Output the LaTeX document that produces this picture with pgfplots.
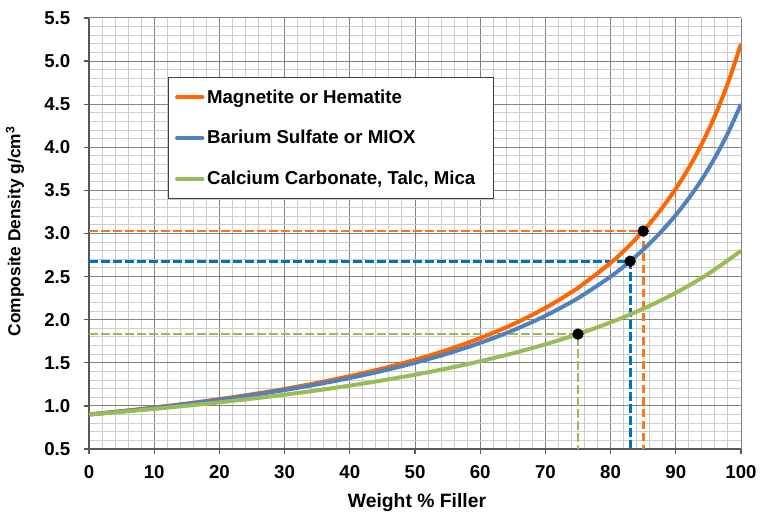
\documentclass[border=0pt]{standalone}
\usepackage{pgfplots}
\pgfplotsset{compat=1.18}
\usepackage{fontspec}
\setmainfont{Liberation Sans}
\definecolor{corange}{RGB}{255,102,0}
\definecolor{cblue}{RGB}{79,129,189}
\definecolor{cgreen}{RGB}{155,187,89}
\definecolor{dblue}{RGB}{0,112,192}
\definecolor{dorange}{RGB}{247,120,30}
\definecolor{majgrid}{RGB}{130,130,130}
\definecolor{mingrid}{RGB}{205,205,205}
\begin{document}
\begin{tikzpicture}
\useasboundingbox (0,0) rectangle (576pt,391.5pt);
\begin{axis}[
  at={(66.75pt,54.75pt)}, anchor=south west,
  width=489pt, height=323.25pt, scale only axis,
  xmin=0, xmax=100, ymin=0.5, ymax=5.5,
  xtick={0,10,...,100},
  ytick={0.5,1.0,...,5.5},
  minor x tick num=4, minor y tick num=4,
  grid=both,
  major grid style={draw=majgrid, line width=0.75pt},
  minor grid style={draw=mingrid, line width=0.75pt},
  axis lines*=left,
  axis line style={draw=black!65, line width=0.9pt},
  tick align=outside,
  major tick length=4pt, minor tick length=0pt,
  tick style={draw=black!65, line width=0.9pt},
  /pgf/number format/assume math mode=true,
  yticklabel style={/pgf/number format/fixed, /pgf/number format/fixed zerofill, /pgf/number format/precision=1, xshift=-6.5pt},
  xticklabel style={yshift=-4.5pt},
  ticklabel style={font=\bfseries\fontsize{14}{16}\selectfont},
  xlabel={Weight \% Filler},
  ylabel={Composite Density g/cm\textsuperscript{3}},
  xlabel style={font=\bfseries\fontsize{14.5}{17}\selectfont, at={(axis description cs:0.503,-0.125)}, anchor=center},
  ylabel style={font=\bfseries\fontsize{13}{15}\selectfont, at={(axis description cs:-0.1135,0.505)}, anchor=center},
  legend style={at={(axis description cs:0.121,0.863)}, anchor=north west,
    draw=black!75, line width=0.75pt, fill=white,
    font=\bfseries\fontsize{14}{16}\selectfont,
    row sep=15pt, inner xsep=5pt, inner ysep=7pt},
  legend cell align=left,
  legend image code/.code={\draw[#1, line cap=round] (0pt,0pt) -- (19pt,0pt);},
]
% dashed guide lines
\addplot[forget plot, dorange, line width=2.1pt, dash pattern=on 6.5pt off 2.5pt] coordinates {(0,3.029) (85,3.029) (85,0.5)};
\addplot[forget plot, dblue, line width=2.1pt, dash pattern=on 6.5pt off 2.5pt] coordinates {(0,2.679) (83,2.679) (83,0.5)};
\addplot[forget plot, cgreen, line width=2.1pt, dash pattern=on 6.5pt off 2.5pt] coordinates {(0,1.833) (75,1.833) (75,0.5)};
% curves
\addplot[corange, line width=3pt, smooth] coordinates {
(0,0.9) (5,0.9388) (10,0.9811) (15,1.0274) (20,1.0783) (25,1.1346) (30,1.1969) (35,1.2666) (40,1.3448) (45,1.4334) (50,1.5344) (55,1.6508) (60,1.7863) (65,1.9459) (70,2.1370) (75,2.3696) (80,2.6591) (82.5,2.8321) (85,3.0291) (87.5,3.2556) (90,3.5188) (92,3.7621) (94,4.0416) (96,4.3657) (98,4.7465) (100,5.2)};
\addlegendentry{Magnetite or Hematite}
\addplot[cblue, line width=3pt, smooth] coordinates {
(0,0.9) (5,0.9375) (10,0.9783) (15,1.0227) (20,1.0714) (25,1.125) (30,1.1842) (35,1.25) (40,1.3235) (45,1.4063) (50,1.5) (55,1.6071) (60,1.7308) (65,1.875) (70,2.0455) (75,2.25) (80,2.5) (82.5,2.6471) (85,2.8125) (87.5,3.0) (90,3.2143) (92,3.4091) (94,3.6290) (96,3.8793) (98,4.1667) (100,4.5)};
\addlegendentry{Barium Sulfate or MIOX}
\addplot[cgreen, line width=3pt, smooth] coordinates {
(0,0.9) (5,0.9316) (10,0.9655) (15,1.0020) (20,1.0413) (25,1.0839) (30,1.1300) (35,1.1803) (40,1.2353) (45,1.2956) (50,1.3622) (55,1.4359) (60,1.5181) (65,1.6102) (70,1.7143) (75,1.8327) (80,1.9688) (85,2.1266) (90,2.3119) (95,2.5327) (100,2.8)};
\addlegendentry{Calcium Carbonate, Talc, Mica\hspace*{6.5pt}}
% markers
\addplot[forget plot, only marks, mark=*, mark size=4pt, black] coordinates {(85,3.029) (83,2.679) (75,1.833)};
\end{axis}
\end{tikzpicture}
\end{document}
